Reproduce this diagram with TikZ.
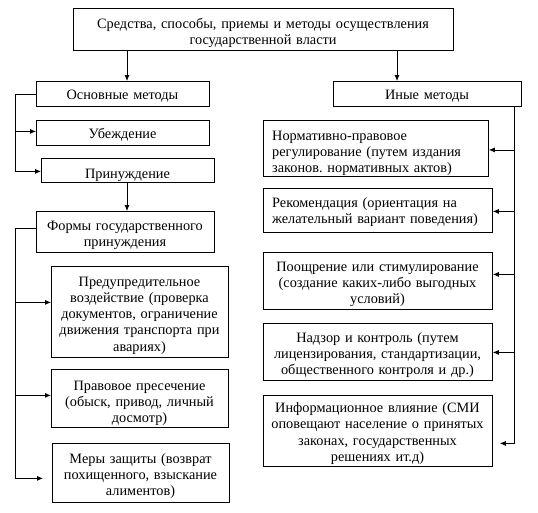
\documentclass[tikz,border=0pt]{standalone}
\usepackage{fontspec}
\setmainfont{Liberation Serif}
\usetikzlibrary{arrows.meta}
\frenchspacing
\begin{document}
\begin{tikzpicture}[x=1pt,y=-1pt,
  box/.style={draw, line width=0.8pt, inner sep=0pt, anchor=north west},
  txt/.style={font=\fontsize{14.3}{16.3}\selectfont\frenchspacing, inner sep=0pt, align=center, anchor=base},
  ltxt/.style={txt, align=left, anchor=base west},
  arr/.style={-{Latex[length=6pt,width=5pt]}, line width=0.8pt},
  ln/.style={line width=0.8pt}]
\useasboundingbox (0,0) rectangle (538,512);
\coordinate (L) at (15,0);
% top
\node[box, minimum width=380pt, minimum height=42pt] (top) at (73,8) {};
\node[txt, text width=370pt] (top-t) at (263,28) {Средства, способы, приемы и методы осуществления\\государственной власти};
% left column
\node[box, minimum width=173pt, minimum height=25pt] (osn) at (36,81) {};
\node[txt, text width=170pt] (osn-t) at (122.5,99) {Основные методы};
\node[box, minimum width=173pt, minimum height=25pt] (ubd) at (36,120) {};
\node[txt, text width=170pt] (ubd-t) at (122.5,138) {Убеждение};
\node[box, minimum width=173pt, minimum height=24pt] (prn) at (41,158) {};
\begin{scope}
\clip (prn.south west) rectangle (prn.north east);
\node[txt, text width=170pt] (prn-t) at (127.5,178) {Принуждение};
\end{scope}
\node[box, minimum width=178pt, minimum height=41pt] (frm) at (36,211) {};
\node[txt, text width=175pt] (frm-t) at (125,230) {Формы государственного\\принуждения};
\node[box, minimum width=177pt, minimum height=91pt] (prd) at (51,266) {};
\node[txt, text width=175pt] (prd-t) at (139.5,286) {Предупредительное\\воздействие (проверка\\документов, ограничение\\движения транспорта при\\авариях)};
\node[box, minimum width=177pt, minimum height=58pt] (prv) at (51,369) {};
\begin{scope}
\clip (prv.south west) rectangle (prv.north east);
\node[txt, text width=175pt] (prv-t) at (139.5,390) {Правовое пресечение\\(обыск, привод, личный\\досмотр)};
\end{scope}
\node[box, minimum width=177pt, minimum height=59pt] (mer) at (52,443) {};
\node[txt, text width=175pt] (mer-t) at (140.5,463) {Меры защиты (возврат\\похищенного, взыскание\\алиментов)};
% right column
\node[box, minimum width=188pt, minimum height=25pt] (ino) at (333,81) {};
\node[txt, text width=185pt] (ino-t) at (427,99) {Иные методы};
\node[box, minimum width=225pt, minimum height=56pt] (nrm) at (263,120) {};
\begin{scope}
\clip (nrm.south west) rectangle (nrm.north east);
\node[ltxt, text width=215pt] (nrm-t) at (272,140) {Нормативно-правовое\\\makebox[208pt][s]{регулирование (путем издания}\\законов. нормативных актов)};
\end{scope}
\node[box, minimum width=229pt, minimum height=44pt] (rec) at (263,188) {};
\node[ltxt, text width=220pt] (rec-t) at (272,207) {\makebox[212pt][s]{Рекомендация (ориентация на}\\желательный вариант поведения)};
\node[box, minimum width=229pt, minimum height=57pt] (poo) at (263,252) {};
\node[txt, text width=225pt] (poo-t) at (377.5,271) {Поощрение или стимулирование\\(создание каких-либо выгодных\\условий)};
\node[box, minimum width=229pt, minimum height=57pt] (ndz) at (263,323) {};
\node[txt, text width=225pt] (ndz-t) at (377.5,342) {Надзор и контроль (путем\\лицензирования, стандартизации,\\общественного контроля и др.)};
\node[box, minimum width=229pt, minimum height=71pt] (inf) at (263,395) {};
\begin{scope}
\clip (inf.south west) rectangle (inf.north east);
\node[txt, text width=225pt] (inf-t) at (377.5,412.5) {Информационное влияние (СМИ\\оповещают население о принятых\\законах, государственных\\решениях ит.д)};
\end{scope}
% connectors
\draw[arr] ([xshift=54pt]top.south west) -- ([xshift=91pt]osn.north west);
\draw[arr] ([xshift=324pt]top.south west) -- ([xshift=64pt]ino.north west);
\draw[ln] (osn.west) -| ([yshift=-1pt]L |- prn.west);
\draw[arr] ([yshift=1.5pt]L |- ubd.west) -- ([yshift=1.5pt]ubd.west);
\draw[arr] ([yshift=-1pt]L |- prn.west) -- ([yshift=-1pt]prn.west);
\draw[arr] ([xshift=86pt]prn.south west) -- ([xshift=91pt]frm.north west);
\draw[ln] ([yshift=3.5pt]frm.west) -| ([yshift=-5.5pt]L |- mer.west);
\draw[arr] ([yshift=9.5pt]L |- prd.west) -- ([yshift=9.5pt]prd.west);
\draw[arr] ([yshift=3pt]L |- prv.west) -- ([yshift=3pt]prv.west);
\draw[arr, shorten >=9pt] ([yshift=-5.5pt]L |- mer.west) -- ([yshift=-5.5pt]mer.west);
\coordinate (R) at ([xshift=-7pt]ino.south east);
\draw[ln] (R) -- ([yshift=-12.5pt]R |- inf.east);
\draw[arr] ([yshift=-1.5pt]R |- nrm.east) -- ([yshift=-1.5pt]nrm.east);
\draw[arr] ([yshift=-1pt]R |- rec.east) -- ([yshift=-1pt]rec.east);
\draw[arr] ([yshift=6.5pt]R |- poo.east) -- ([yshift=6.5pt]poo.east);
\draw[arr] ([yshift=-0.5pt]R |- ndz.east) -- ([yshift=-0.5pt]ndz.east);
\draw[arr, shorten >=7pt] ([yshift=-12.5pt]R |- inf.east) -- ([yshift=-12.5pt]inf.east);
\end{tikzpicture}
\end{document}
